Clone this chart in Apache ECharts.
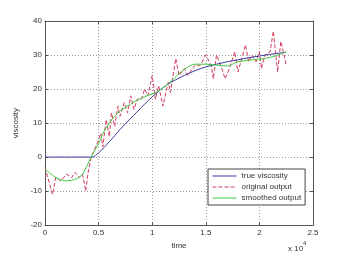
<!DOCTYPE html>
<html><head><meta charset="utf-8">
<script src="https://cdn.jsdelivr.net/npm/echarts@6/dist/echarts.min.js"></script>
<style>html,body{margin:0;padding:0;background:#fff}#c{width:340px;height:255px}</style>
</head><body><div id="c"></div>
<script>
var xTicks = [0, 5000, 10000, 15000, 20000, 25000];
var yTicks = [-20, -10, 0, 10, 20, 30, 40];

var trueTime = [0, 1000, 2000, 3000, 4000, 4400, 5000, 5500, 6000, 6500, 7000, 7500, 8000, 8500, 9000, 9500, 10000, 10500, 11000, 11500, 12000, 13000, 14000, 15000, 16000, 17000, 18000, 19000, 20000, 21000, 22000, 22500];
var trueVisc = [0, 0, 0, 0, 0, 0, 1.2, 2.8, 4.5, 6.3, 8.1, 9.8, 11.4, 13.0, 14.6, 16.2, 17.7, 19.1, 20.4, 21.5, 22.4, 24.0, 25.4, 26.5, 27.3, 28.0, 28.6, 29.2, 29.7, 30.2, 30.6, 30.8];

var origTime = [0, 700, 1000, 1500, 2000, 2500, 2800, 3200, 3500, 3800, 4000, 4300, 5000, 5200, 5400, 5700, 6000, 6200, 6500, 6800, 7000, 7400, 7700, 8000, 8300, 8600, 9000, 9300, 9600, 10000, 10300, 10600, 11000, 11500, 11700, 12200, 12500, 13000, 13300, 14000, 14500, 15000, 15500, 15700, 16000, 16500, 16800, 17200, 17700, 18000, 18700, 19000, 19300, 19700, 20000, 20200, 20500, 21000, 21300, 21700, 22000, 22300, 22500];
var origOut = [-3, -11, -6, -7, -5, -6, -4.5, -6, -5, -10, -5, 0, 5, 7, 3, 11, 6, 13, 9, 15, 12, 16, 13, 18, 14, 17, 17, 20, 18, 24, 17, 21, 15, 22, 19, 29, 24, 26, 24, 27, 27, 30, 27, 23, 30, 26, 23, 26, 31, 25, 33, 28, 30, 28, 31, 26, 30, 31, 37, 25, 34, 30, 27];

var smoothTime = [0, 1000, 2000, 3000, 3500, 4000, 4300, 5000, 5500, 6000, 6500, 7000, 7500, 8000, 8500, 9000, 9500, 10000, 10500, 11000, 11500, 12000, 12500, 13000, 13500, 14000, 15000, 16000, 17000, 17500, 18000, 19000, 20000, 21000, 22000, 22500];
var smoothOut = [-3.5, -6, -7, -6.3, -5, -2, 0, 4, 7.5, 10, 12, 13.5, 14.6, 15.6, 16.5, 17.3, 18, 18.5, 19.3, 20.3, 21.5, 23, 24.5, 25.8, 26.8, 27.3, 27.3, 27, 26.8, 27.3, 28, 28.5, 28.8, 29.3, 30.3, 31];

function pairs(xs, ys) { return xs.map(function (x, i) { return [x, ys[i]]; }); }

var font = 'Liberation Sans, Arial, sans-serif';
var chart = echarts.init(document.getElementById('c'), null, {renderer: 'canvas'});
var gridLine = {show: true, lineStyle: {color: '#9a9a9a', type: [1, 2], width: 1}};
var axisCommon = {lineStyle: {color: '#555', width: 1}};
chart.setOption({
  backgroundColor: '#fff',
  animation: false,
  grid: {left: 45, right: 27, top: 21, bottom: 26, show: false},
  xAxis: [{
    type: 'value', min: xTicks[0], max: xTicks[xTicks.length - 1], interval: 5000,
    position: 'bottom',
    name: 'time', nameLocation: 'middle', nameGap: 14,
    nameTextStyle: {fontFamily: font, fontSize: 8, color: '#333'},
    axisLine: {show: true, onZero: false, lineStyle: axisCommon.lineStyle},
    axisTick: {inside: true, length: 3, lineStyle: {color: '#555'}},
    axisLabel: {fontFamily: font, fontSize: 8, color: '#333', margin: 4,
      formatter: function (v) { return String(v / 10000); }},
    splitLine: gridLine
  }, {
    type: 'value', min: xTicks[0], max: xTicks[xTicks.length - 1], interval: 5000,
    position: 'top',
    axisLine: {show: true, onZero: false, lineStyle: axisCommon.lineStyle},
    axisTick: {inside: true, length: 3, lineStyle: {color: '#555'}},
    axisLabel: {show: false}, splitLine: {show: false}
  }],
  yAxis: [{
    type: 'value', min: yTicks[0], max: yTicks[yTicks.length - 1], interval: 10,
    position: 'left',
    name: 'viscosity', nameLocation: 'middle', nameGap: 22, nameRotate: 90,
    nameTextStyle: {fontFamily: font, fontSize: 8, color: '#333'},
    axisLine: {show: true, onZero: false, lineStyle: axisCommon.lineStyle},
    axisTick: {show: true, inside: true, length: 3, lineStyle: {color: '#555'}},
    axisLabel: {fontFamily: font, fontSize: 8, color: '#333', margin: 3},
    splitLine: gridLine
  }, {
    type: 'value', min: yTicks[0], max: yTicks[yTicks.length - 1], interval: 10,
    position: 'right',
    axisLine: {show: true, onZero: false, lineStyle: axisCommon.lineStyle},
    axisTick: {show: true, inside: true, length: 3, lineStyle: {color: '#555'}},
    axisLabel: {show: false}, splitLine: {show: false}
  }],
  legend: {
    orient: 'vertical', left: 208, top: 169,
    backgroundColor: '#fff', borderColor: '#444', borderWidth: 1, borderRadius: 0,
    padding: [3, 4, 3, 4], itemGap: 3, itemWidth: 24, itemHeight: 8,
    itemStyle: {opacity: 0},
    lineStyle: {width: 1},
    textStyle: {fontFamily: font, fontSize: 8, color: '#333'},
    data: ['true viscosity', 'original output', 'smoothed output']
  },
  graphic: [{
    type: 'text', left: 288, top: 240,
    style: {
      text: '{a|x 10}{b|4}',
      rich: {
        a: {fontFamily: font, fontSize: 8, fill: '#333', padding: [5, 0, 0, 0]},
        b: {fontFamily: font, fontSize: 6, fill: '#333', verticalAlign: 'top'}
      }
    }
  }],
  series: [{
    name: 'true viscosity', type: 'line', smooth: 0.3, showSymbol: false, symbol: 'none',
    data: pairs(trueTime, trueVisc),
    lineStyle: {color: '#3a3aa0', width: 1}, itemStyle: {color: '#3a3aa0'}, z: 3
  }, {
    name: 'original output', type: 'line', showSymbol: false, symbol: 'none',
    data: pairs(origTime, origOut),
    lineStyle: {color: '#d04060', width: 1, type: [4, 2]}, itemStyle: {color: '#d04060'}, z: 2
  }, {
    name: 'smoothed output', type: 'line', smooth: 0.3, showSymbol: false, symbol: 'none',
    data: pairs(smoothTime, smoothOut),
    lineStyle: {color: '#40cc40', width: 1}, itemStyle: {color: '#40cc40'}, z: 4
  }]
});
</script></body></html>
